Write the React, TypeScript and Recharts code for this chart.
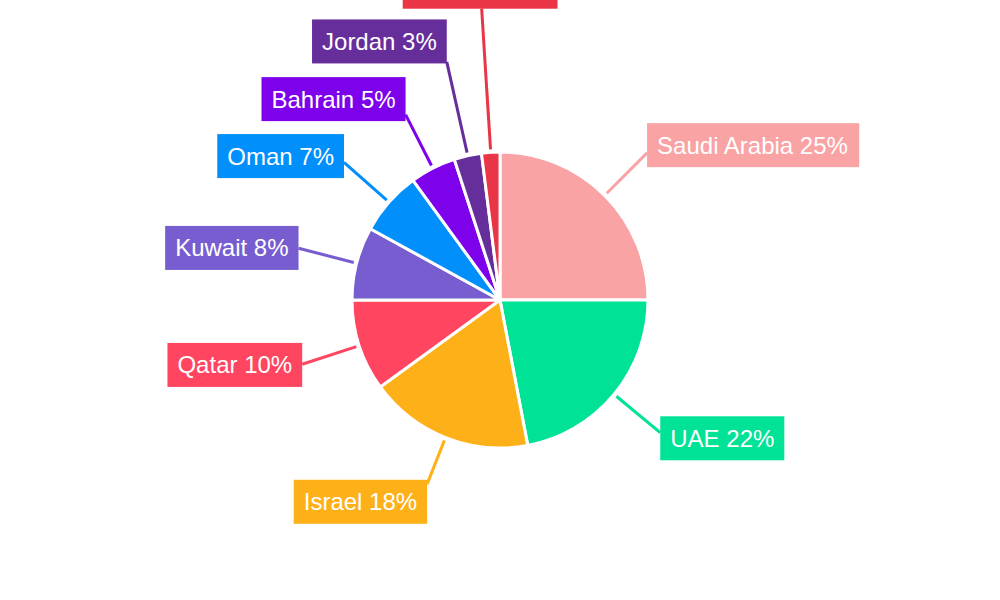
import { PieChart, Pie, Cell } from "recharts";

const countries = ["Saudi Arabia", "UAE", "Israel", "Qatar", "Kuwait", "Oman", "Bahrain", "Jordan", "Lebanon"];
const shares = [25, 22, 18, 10, 8, 7, 5, 3, 2];
const colors = ["#f9a3a4", "#00e396", "#feb019", "#ff4560", "#775dd0", "#008ffb", "#7d02eb", "#662e9b", "#ea3546"];

// extra leader-line length for labels that had to be moved to avoid overlaps
const labelPush: Record<string, number> = { Israel: -10, Jordan: 36, Lebanon: 84 };
// where the leader line meets the label box (0 = left edge, 1 = right edge)
const labelAnchor: Record<string, number> = { Lebanon: 0.51 };

const data = countries.map((name, i) => ({ name, value: shares[i] }));

const FONT = "24px 'Liberation Sans', Arial, sans-serif";
let ctx: CanvasRenderingContext2D | null = null;
function measure(s: string) {
  if (!ctx) ctx = document.createElement("canvas").getContext("2d");
  if (!ctx) return s.length * 13;
  ctx.font = FONT;
  return ctx.measureText(s).width;
}

const RADIAN = Math.PI / 180;

function renderLabel(props: any) {
  const { cx, cy, midAngle, outerRadius, index } = props;
  const name = countries[index];
  const color = colors[index];
  const dx = Math.cos(-midAngle * RADIAN);
  const dy = Math.sin(-midAngle * RADIAN);
  const r0 = outerRadius + 3;
  const r1 = outerRadius + 60 + (labelPush[name] ?? 0);
  const sx = cx + r0 * dx;
  const sy = cy + r0 * dy;
  const ex = cx + r1 * dx;
  const ey = cy + r1 * dy;
  const text = `${name} ${shares[index]}%`;
  const w = measure(text) + 20;
  const h = 44;
  const anchor = labelAnchor[name] ?? (ex >= cx ? 0 : 1);
  const bx = ex - w * anchor;
  const centerY = ey + 22 * dy * dy * dy;
  return (
    <g key={`lbl-${index}`}>
      <line x1={sx} y1={sy} x2={ex} y2={ey} stroke={color} strokeWidth={3} />
      <rect x={bx} y={centerY - h / 2} width={w} height={h} fill={color} />
      <text
        x={bx + 10}
        y={centerY}
        dominantBaseline="central"
        fill="#fff"
        style={{ font: FONT }}
      >
        {text}
      </text>
    </g>
  );
}

export default function App() {
  return (
    <div style={{ position: "absolute", left: 0, top: 0, width: 1000, height: 600, background: "#fff" }}>
      <PieChart width={1000} height={600} margin={{ top: 0, right: 0, bottom: 0, left: 0 }}>
        <Pie
          data={data}
          dataKey="value"
          nameKey="name"
          cx={500}
          cy={300}
          outerRadius={148}
          startAngle={90}
          endAngle={-270}
          stroke="#fff"
          strokeWidth={3}
          label={renderLabel}
          labelLine={false}
          isAnimationActive={false}
        >
          {data.map((_d, i) => (
            <Cell key={i} fill={colors[i]} />
          ))}
        </Pie>
      </PieChart>
    </div>
  );
}
